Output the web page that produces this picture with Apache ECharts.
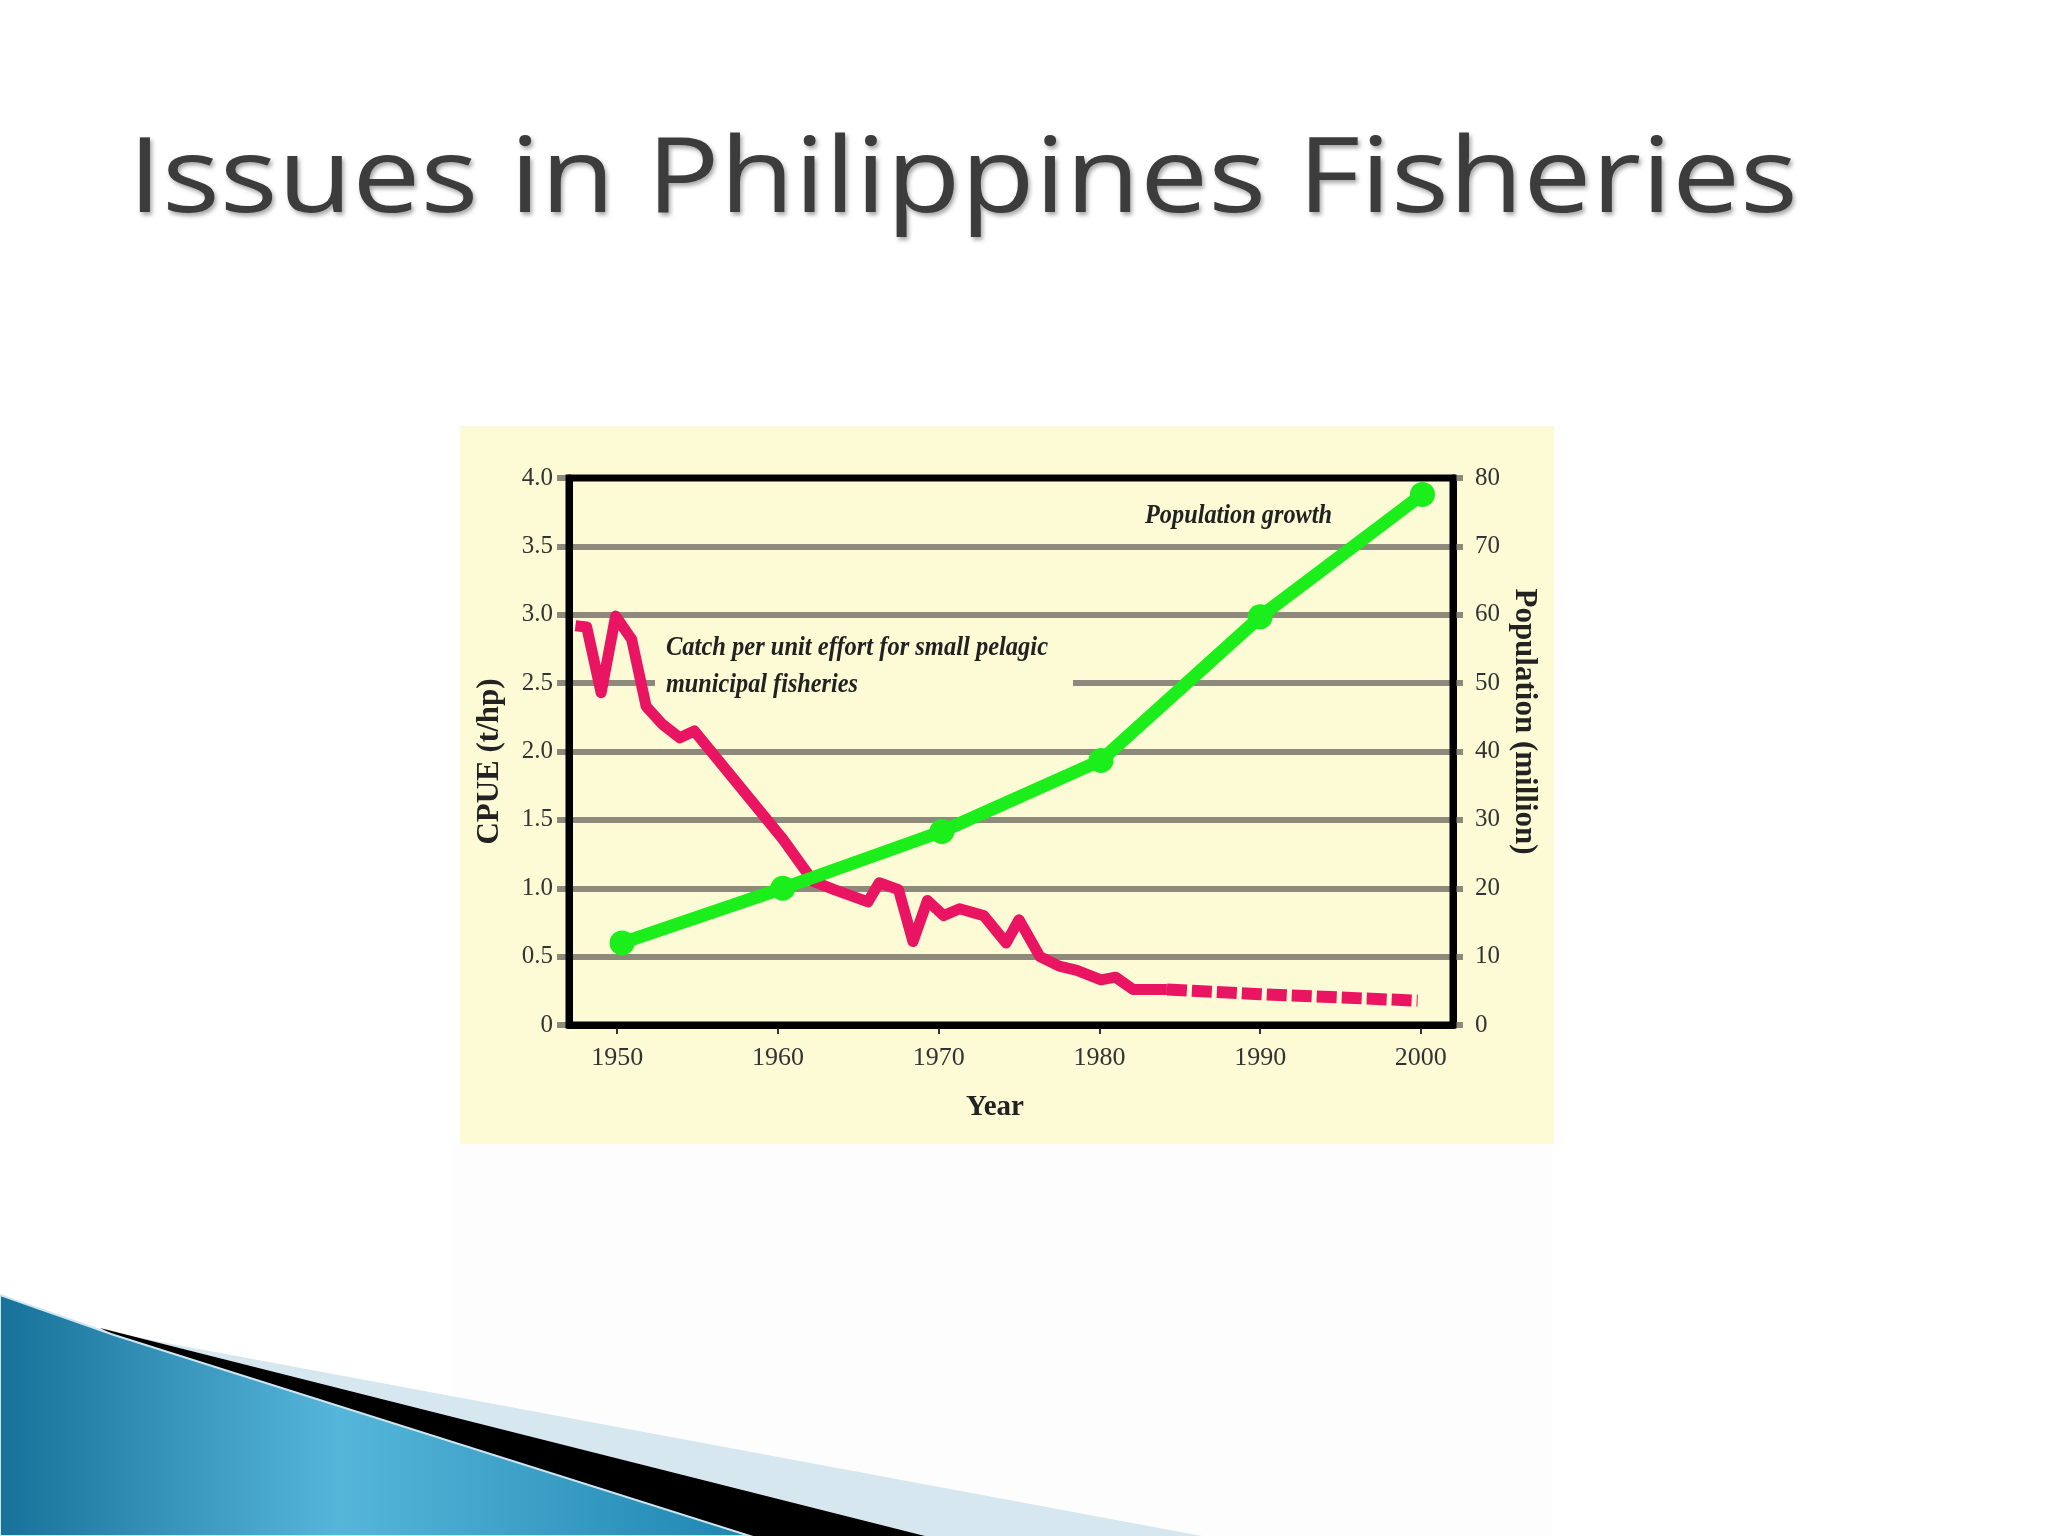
<!DOCTYPE html>
<html>
<head>
<meta charset="utf-8">
<script src="https://cdn.jsdelivr.net/npm/echarts/dist/echarts.min.js"></script>
<style>
html,body{margin:0;padding:0;background:#ffffff;}
#chart{width:2048px;height:1536px;}
</style>
</head>
<body>
<div id="chart"></div>
<script>
// ---------- data ----------
const titleText = 'Issues in Philippines Fisheries';
const cpueYears  = [1947.4, 1948.1, 1949.0, 1949.9, 1950.9, 1951.8, 1952.8, 1953.9, 1954.8, 1960.3, 1962.2, 1963.5, 1965.6, 1966.3, 1967.5, 1968.4, 1969.3, 1970.3, 1971.3, 1972.8, 1974.2, 1975.0, 1976.3, 1977.5, 1978.6, 1980.1, 1981.0, 1982.1, 1984.2];
const cpueValues = [2.92, 2.91, 2.43, 2.99, 2.82, 2.33, 2.20, 2.10, 2.15, 1.36, 1.05, 0.99, 0.90, 1.04, 0.99, 0.61, 0.91, 0.80, 0.85, 0.80, 0.60, 0.77, 0.50, 0.43, 0.40, 0.33, 0.35, 0.26, 0.26];
const cpueProjYears  = [1984.2, 1990, 1999.8];
const cpueProjValues = [0.26, 0.225, 0.178];
const popYears  = [1950.3, 1960.3, 1970.2, 1980.1, 1990.0, 2000.1];
const popValues = [12.0, 20.0, 28.3, 38.7, 59.7, 77.6];
const yearTicks = [1950, 1960, 1970, 1980, 1990, 2000];
const cpueAnnotation = ['Catch per unit effort for small pelagic', 'municipal fisheries'];
const popAnnotation = 'Population growth';
const leftAxisName = 'CPUE (t/hp)';
const rightAxisName = 'Population (million)';
const xAxisName = 'Year';

// ---------- style ----------
const PANEL = '#fdfbd5';
const RED = '#ea1562';
const GREEN = '#1bee1b';
const GRID = '#8d8a7b';
const SERIF = '"Liberation Serif", "Times New Roman", serif';

const mctx = document.createElement('canvas').getContext('2d');
function fitScale(text, font, target) {
  mctx.font = font;
  return target / mctx.measureText(text).width;
}

const titleFont = 'normal 104px "Open Sans"';
const annFont = 'italic bold 27px ' + SERIF;

const chart = echarts.init(document.getElementById('chart'));

const option = {
  animation: false,
  backgroundColor: 'transparent',
  grid: {
    left: 569, right: 2048 - 1453, top: 478, bottom: 1536 - 1025,
    show: true, borderColor: '#000', borderWidth: 7, backgroundColor: 'transparent', z: 2
  },
  xAxis: {
    type: 'value', min: 1947, max: 2002,
    name: xAxisName, nameLocation: 'middle', nameGap: 68,
    nameTextStyle: { fontFamily: SERIF, fontWeight: 'bold', fontSize: 29, color: '#222', padding: [0, 32, 0, 0] },
    axisLine: { show: true, onZero: false, lineStyle: { color: '#000', width: 7 } },
    axisTick: { show: true, customValues: yearTicks, length: 9, lineStyle: { color: '#333', width: 2 } },
    axisLabel: { customValues: yearTicks, margin: 20, fontFamily: SERIF, fontSize: 26, color: '#333',
      formatter: v => String(v) },
    splitLine: { show: false }
  },
  yAxis: [
    {
      type: 'value', min: 0, max: 4, interval: 0.5, position: 'left',
      name: leftAxisName, nameLocation: 'middle', nameRotate: 90, nameGap: 64,
      nameTextStyle: { fontFamily: SERIF, fontWeight: 'bold', fontSize: 31, color: '#222', padding: [0, 20, 0, 0] },
      axisLine: { show: true, lineStyle: { color: '#000', width: 7 } },
      axisTick: { show: true, length: 12, lineStyle: { color: GRID, width: 6 } },
      axisLabel: { margin: 16, fontFamily: SERIF, fontSize: 25, color: '#333',
        formatter: v => v === 0 ? '0' : v.toFixed(1) },
      splitLine: { show: true, lineStyle: { color: GRID, width: 6 } }
    },
    {
      type: 'value', min: 0, max: 80, interval: 10, position: 'right',
      name: rightAxisName, nameLocation: 'middle', nameRotate: -90, nameGap: 56,
      nameTextStyle: { fontFamily: SERIF, fontWeight: 'bold', fontSize: 31, color: '#222', padding: [0, 60, 0, 0] },
      axisLine: { show: true, lineStyle: { color: '#000', width: 7 } },
      axisTick: { show: true, length: 10, lineStyle: { color: GRID, width: 6 } },
      axisLabel: { margin: 22, fontFamily: SERIF, fontSize: 25, color: '#333' },
      splitLine: { show: false }
    }
  ],
  series: [
    {
      name: 'CPUE', type: 'line', yAxisIndex: 0, z: 3,
      data: cpueYears.map((y, i) => [y, cpueValues[i]]),
      symbol: 'none', lineStyle: { color: RED, width: 11, join: 'round' }
    },
    {
      name: 'CPUE projected', type: 'line', yAxisIndex: 0, z: 3,
      data: cpueProjYears.map((y, i) => [y, cpueProjValues[i]]),
      symbol: 'none', lineStyle: { color: RED, width: 12, type: [20, 5] }
    },
    {
      name: 'Population', type: 'line', yAxisIndex: 1, z: 4,
      data: popYears.map((y, i) => [y, popValues[i]]),
      symbol: 'circle', symbolSize: 25,
      itemStyle: { color: GREEN }, lineStyle: { color: GREEN, width: 13 }
    }
  ],
  graphic: [
    // chart panel background
    { type: 'rect', z: -10, silent: true, shape: { x: 460, y: 426, width: 1094, height: 718 }, style: { fill: PANEL } },
    { type: 'rect', z: -10, silent: true, shape: { x: 452, y: 1144, width: 1102, height: 392 }, style: { fill: '#fdfdfd' } },
    // annotation background (hides part of a grid line)
    { type: 'rect', z: 1, silent: true, shape: { x: 655, y: 621, width: 418, height: 93 }, style: { fill: PANEL } },
    { type: 'text', z: 5, x: 666, y: 648,
      scaleX: fitScale(cpueAnnotation[0], annFont, 382),
      style: { text: cpueAnnotation[0], font: annFont, fill: '#222', align: 'left', verticalAlign: 'middle' } },
    { type: 'text', z: 5, x: 666, y: 685,
      scaleX: fitScale(cpueAnnotation[1], annFont, 192),
      style: { text: cpueAnnotation[1], font: annFont, fill: '#222', align: 'left', verticalAlign: 'middle' } },
    { type: 'text', z: 5, x: 1145, y: 516,
      scaleX: fitScale(popAnnotation, annFont, 187),
      style: { text: popAnnotation, font: annFont, fill: '#222', align: 'left', verticalAlign: 'middle' } },
    // slide title
    { type: 'text', z: 5, x: 128, y: 182,
      scaleX: fitScale(titleText, titleFont, 1670),
      style: { text: titleText, font: titleFont, fill: '#3c3c3c', align: 'left', verticalAlign: 'middle',
        textShadowColor: 'rgba(0,0,0,0.35)', textShadowBlur: 4, textShadowOffsetX: 2, textShadowOffsetY: 3 } },
    // decorative corner
    { type: 'polygon', z: 5, silent: true,
      shape: { points: [[100, 1328], [140, 1338], [1202, 1536], [925, 1536]] },
      style: { fill: '#d6e7f0' } },
    { type: 'polygon', z: 6, silent: true,
      shape: { points: [[100, 1328], [925, 1536], [750, 1536], [112, 1334]] },
      style: { fill: '#000' } },
    { type: 'polygon', z: 7, silent: true,
      shape: { points: [[0, 1295], [40, 1309], [80, 1323], [114, 1335], [750, 1536], [0, 1536]] },
      style: {
        fill: { type: 'linear', x: 0, y: 0, x2: 1, y2: 0,
          colorStops: [{ offset: 0, color: '#17719a' }, { offset: 0.45, color: '#56b6da' }, { offset: 1, color: '#1e86b0' }] },
        stroke: '#cfe6ef', lineWidth: 2
      } }
  ]
};
chart.setOption(option);
</script>
</body>
</html>
